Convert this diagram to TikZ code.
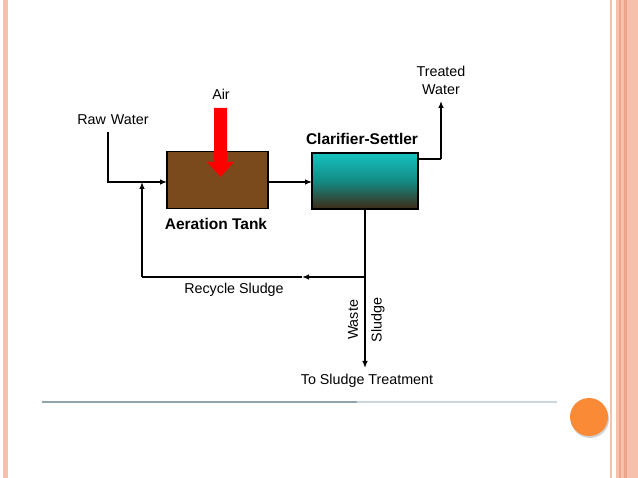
\documentclass[tikz,border=0pt]{standalone}
\usepackage{fontspec}
\setmainfont{Liberation Sans}
\usetikzlibrary{arrows.meta}
\definecolor{brownfill}{HTML}{7A4A1D}
\definecolor{tealtop}{HTML}{17C2C0}
\definecolor{tealmid}{HTML}{138A84}
\definecolor{darkbot}{HTML}{3E2A14}
\definecolor{salmon}{HTML}{F6C0AC}
\definecolor{salmondark}{HTML}{EDA68C}
\definecolor{orangedot}{HTML}{FB8A36}
\definecolor{sepdark}{HTML}{8FA4AE}
\definecolor{seplight}{HTML}{CCD6DE}
\tikzset{
  flow/.style={line width=1.2pt, draw=black},
  arr/.style={flow, -{Latex[length=7pt,width=5.5pt]}},
  lbl/.style={font=\fontsize{14.3}{16}\selectfont, inner sep=0pt},
  blbl/.style={font=\fontsize{15.5}{17}\selectfont\bfseries, inner sep=0pt},
}
\begin{document}
\begin{tikzpicture}[x=1pt,y=-1pt]
\useasboundingbox (0,0) rectangle (638,478);
\fill[white] (0,0) rectangle (638,478);
% borders
\fill[salmon] (3,0) rectangle (7.5,478);
\fill[salmon] (609.5,0) rectangle (612,478);
\fill[salmon] (616,0) rectangle (638,478);
\fill[salmondark] (619,0) rectangle (621,478);
\fill[salmondark] (624,0) rectangle (626.5,478);
% separator
\fill[sepdark] (42,401) rectangle (357,403);
\fill[seplight] (357,401) rectangle (557,403);
% orange dot
\fill[black!18] (590,419) circle (19);
\node[circle, fill=orangedot, minimum size=38pt, inner sep=0pt] (dot) at (589,417) {};
% tanks
\node[draw=black, line width=1.2pt, fill=brownfill, minimum width=101pt, minimum height=57pt, inner sep=0pt] (aer) at (217.5,180) {};
\node[draw=black, line width=1.2pt, top color=tealtop, bottom color=darkbot, middle color=tealmid, minimum width=106pt, minimum height=56pt, inner sep=0pt] (clar) at (365,181) {};
% air arrow
\fill[red] (214,108) -- (227,108) -- (227,162) -- (234,162) -- (220.5,177) -- (207,162) -- (214,162) -- cycle;
\node[lbl] (air) at (221,94) {Air};
% labels
\node[lbl] (raw) at (113,120) {Raw\hspace{5pt}Water};
\node[blbl] (aerlbl) at (216,224) {Aeration Tank};
\node[blbl] (clarlbl) at (362,139) {Clarifier-Settler};
\node[lbl, align=center, font=\fontsize{14.3}{18}\selectfont] (treated) at (441,80) {Treated\\Water};
\node[lbl] (rec) at (234,290) {Recycle Sludge};
\node[lbl, rotate=90] (waste) at (353,320) {Waste};
\node[lbl, rotate=90] (sludge) at (378,320) {Sludge};
\node[lbl] (tosl) at (367,381) {To Sludge Treatment};
% coordinates
\coordinate (rawtop) at (108,132);
\coordinate (rawcorner) at (108,182);
\coordinate (join) at (142,182);
\coordinate (recL) at (142,277);
\coordinate (recMid) at (302,277);
\coordinate (recR) at (365,277);
\coordinate (clarbot) at (365,209);
\coordinate (wasteEnd) at (365,368);
\coordinate (twcorner) at (441,159);
\coordinate (twEnd) at (441,101);
\coordinate (aerR) at (268,182);
\coordinate (clarL) at (312,182);
\coordinate (aerL) at (167,182);
\coordinate (clarR) at (418,159);
% connectors
\draw[flow] (rawtop) -- (rawcorner) -- (join);
\draw[arr] (join) -- (aerL);
\draw[arr] (aerR) -- (clarL);
\draw[flow] (clarR) -- (twcorner);
\draw[arr] (twcorner) -- (twEnd);
\draw[arr] (clarbot) -- (wasteEnd);
\draw[arr] (recR) -- (recMid);
\draw[flow] (recMid) -- (recL);
\draw[arr] (recL) -- (join);
\end{tikzpicture}
\end{document}
